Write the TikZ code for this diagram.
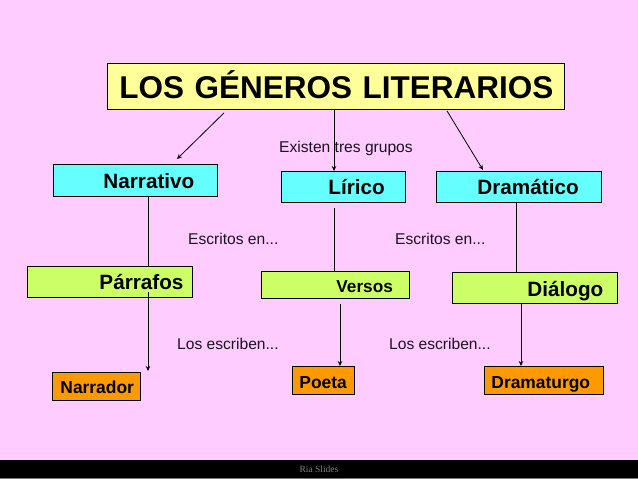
\documentclass[tikz,border=0pt]{standalone}
\usepackage{fontspec}
\setmainfont{Liberation Sans}
\newfontfamily\riafont{Liberation Serif}
\usetikzlibrary{arrows.meta}
\definecolor{bgpink}{HTML}{FFCCFF}
\definecolor{titley}{HTML}{FFFF99}
\definecolor{cyanb}{HTML}{66FFFF}
\definecolor{greenb}{HTML}{CCFF66}
\definecolor{orangeb}{HTML}{FF9900}
\definecolor{txt}{HTML}{1A1320}
\tikzset{
  bx/.style={draw=black, line width=0.9pt, anchor=north west, inner sep=0pt, align=left, text=black},
  titlebox/.style={bx, fill=titley, font=\fontsize{31.5pt}{36pt}\selectfont\bfseries},
  cyanbox/.style={bx, fill=cyanb, font=\fontsize{20.7pt}{24pt}\selectfont\bfseries},
  greenbig/.style={bx, fill=greenb, font=\fontsize{20.7pt}{24pt}\selectfont\bfseries},
  greensmall/.style={bx, fill=greenb, font=\fontsize{17.2pt}{20pt}\selectfont\bfseries},
  orangebox/.style={bx, fill=orangeb, font=\fontsize{17.4pt}{20pt}\selectfont\bfseries},
  lbl/.style={anchor=base west, inner sep=0pt, text=txt, font=\fontsize{15.6pt}{18pt}\selectfont},
  conn/.style={draw=black, line width=0.8pt},
  arr/.style={conn, -{Stealth[length=5pt,width=4.5pt]}}
}
\begin{document}
\begin{tikzpicture}[x=1pt,y=-1pt]
\useasboundingbox (0,0) rectangle (638,479);
\fill[bgpink] (0,0) rectangle (638,479);
% bottom bar
\fill[black] (0,460) rectangle (638,478);
\fill[black!55] (0,478) rectangle (638,479);
\node[anchor=base, inner sep=0pt, text=black!50, font=\riafont\fontsize{9.5pt}{11pt}\selectfont] (ria) at (319,472) {Ria Slides};

% boxes
\node[titlebox, text width=457pt, text height=35pt, text depth=11pt] (title) at (107,63) {\hspace*{12pt}LOS GÉNEROS LITERARIOS};

\node[cyanbox, text width=164pt, text height=24pt, text depth=8pt] (nar) at (53,164) {\hspace*{50pt}Narrativo};
\node[cyanbox, text width=124pt, text height=23pt, text depth=8pt] (lir) at (281,171) {\hspace*{47pt}Lírico};
\node[cyanbox, text width=165pt, text height=23pt, text depth=8pt] (dra) at (436,171) {\hspace*{41pt}Dramático};

\node[greenbig, text width=165pt, text height=23pt, text depth=8pt] (par) at (27,266) {\hspace*{72pt}Párrafos};
\node[greensmall, text width=148pt, text height=21pt, text depth=6pt] (ver) at (261,271) {\hspace*{75pt}Versos};
\node[greenbig, text width=165pt, text height=24pt, text depth=7pt] (dia) at (452,272) {\hspace*{75pt}Diálogo};

\node[orangebox, text width=88pt, text height=21pt, text depth=7pt] (narr) at (52,372) {\hspace*{8pt}Narrador};
\node[orangebox, text width=62pt, text height=22pt, text depth=6pt] (poe) at (292,366) {\hspace*{7pt}Poeta};
\node[orangebox, text width=119pt, text height=22pt, text depth=6pt] (dram) at (484,366) {\hspace*{7pt}Dramaturgo};

% labels
\node[lbl] (l1) at (279,152) {Existen tres grupos};
\node[lbl] (l2) at (188,244) {Escritos en...};
\node[lbl] (l3) at (395,244) {Escritos en...};
\node[lbl] (l4) at (177,349) {Los escriben...};
\node[lbl] (l5) at (389,349) {Los escriben...};

% connectors
\draw[arr] ([xshift=117pt,yshift=-3pt]title.south west) -- ([xshift=124pt,yshift=5pt]nar.north west);
\draw[arr] ([xshift=227pt]title.south west) -- ([xshift=53pt]lir.north west);
\draw[arr] ([xshift=340pt,yshift=-1pt]title.south west) -- ([xshift=47pt,yshift=1pt]dra.north west);

\draw[conn] ([xshift=95pt]nar.south west) -- ([xshift=121pt]par.north west);
\draw[arr] ([xshift=121pt,yshift=6pt]par.south west) -- ([xshift=96pt,yshift=1pt]narr.north west);

\draw[conn] ([xshift=53pt,yshift=-5pt]lir.south west) -- ([xshift=73pt]ver.north west);
\draw[arr] ([xshift=79pt,yshift=-5pt]ver.south west) -- ([xshift=48pt]poe.north west);

\draw[conn] ([xshift=80pt]dra.south west) -- ([xshift=64pt]dia.north west);
\draw[arr] ([xshift=69pt]dia.south west) -- ([xshift=37pt]dram.north west);
\end{tikzpicture}
\end{document}
